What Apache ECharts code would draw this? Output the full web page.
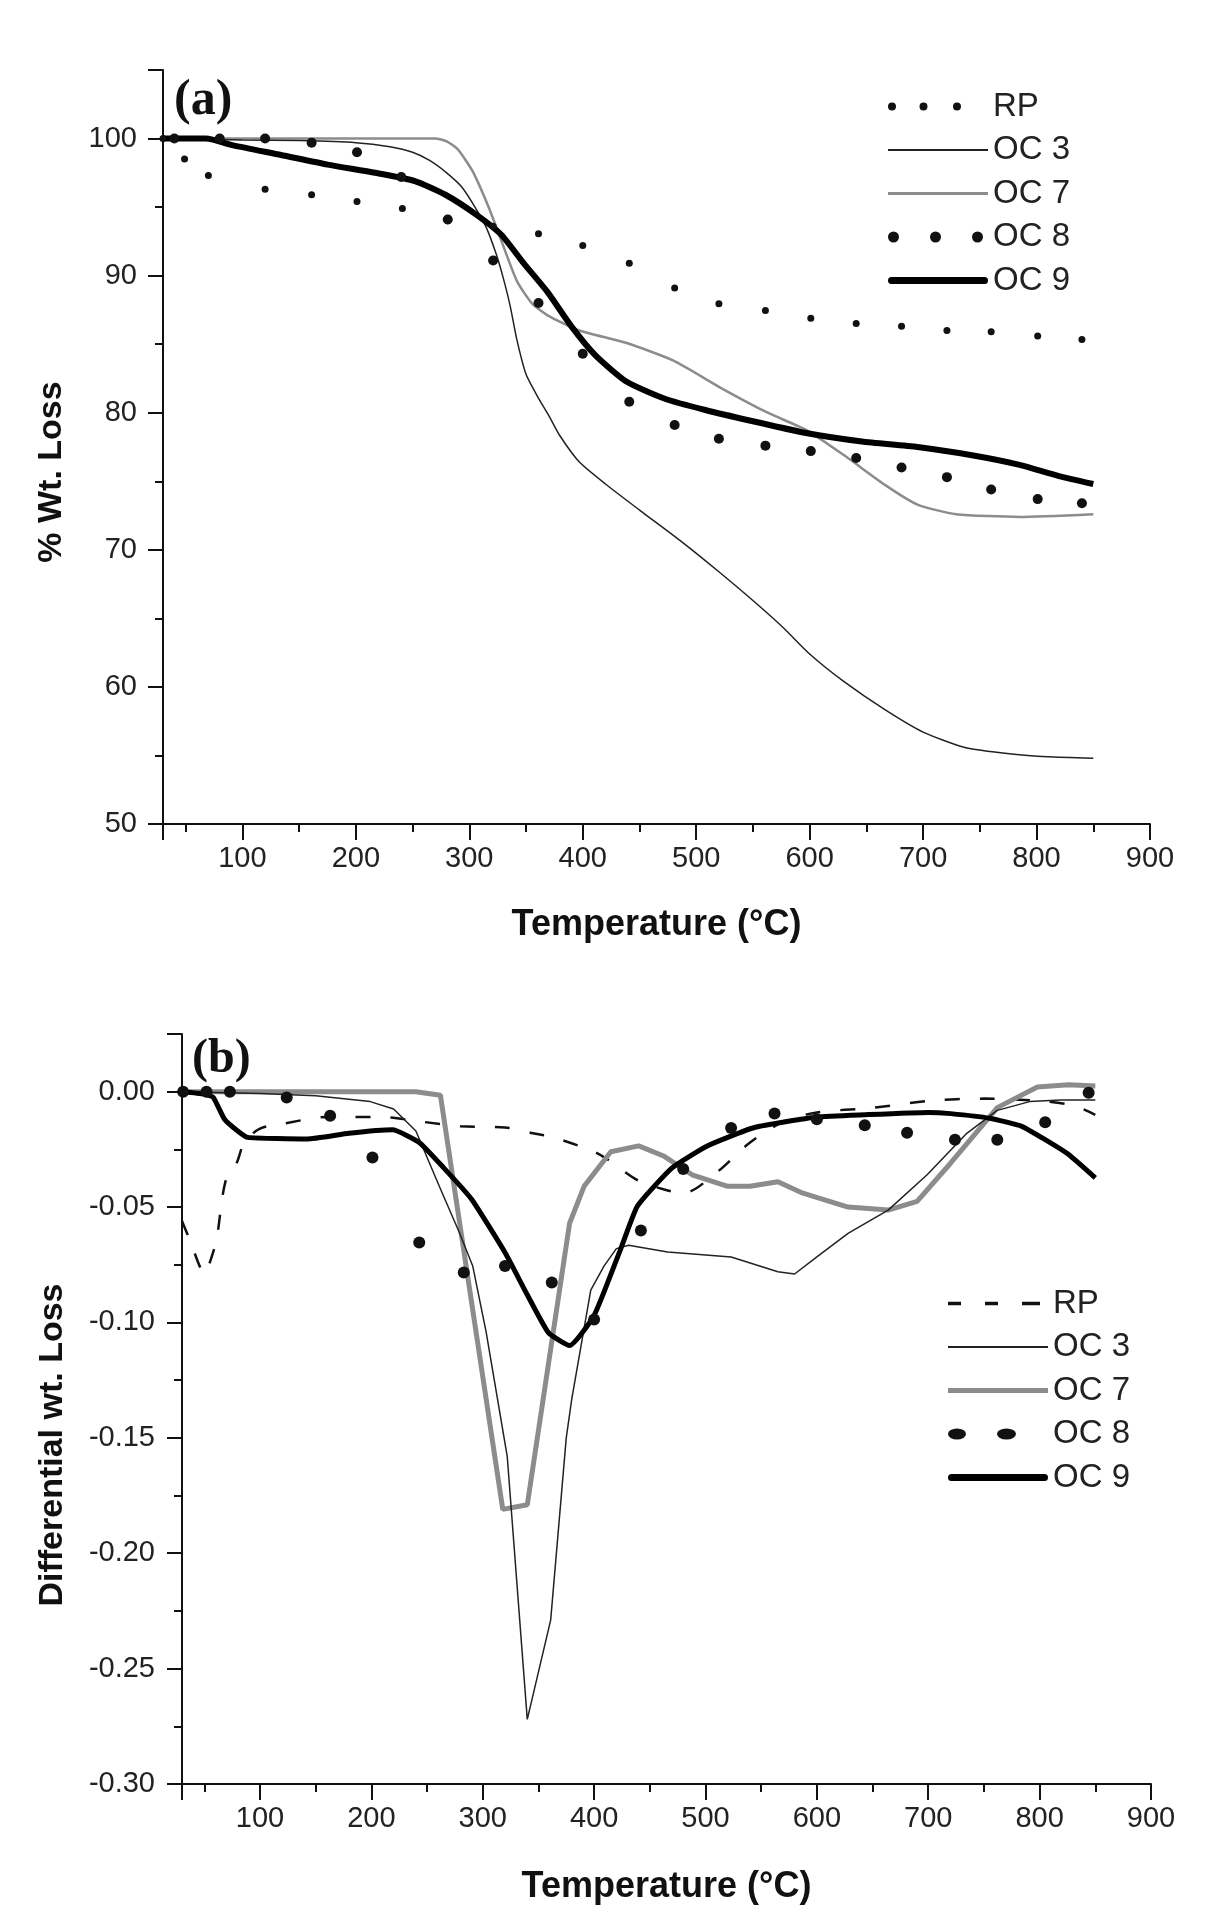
<!DOCTYPE html>
<html>
<head>
<meta charset="utf-8">
<script src="https://cdn.jsdelivr.net/npm/echarts@6/dist/echarts.min.js"></script>
<style>
html,body{margin:0;padding:0;background:#fff;}
#chart{width:1232px;height:1918px;}
</style>
</head>
<body>
<div id="chart"></div>
<script>
// ---------- DATA: panel (a) TGA, % Wt. Loss ----------
const seriesNames = ['RP', 'OC 3', 'OC 7', 'OC 8', 'OC 9'];

const tRPa  = [30, 49, 70, 120, 161, 201, 241, 281, 321, 361, 400, 441, 481, 520, 561, 601, 641, 681, 721, 760, 801, 840];
const wRPa  = [100, 98.5, 97.3, 96.3, 95.9, 95.4, 94.9, 94.0, 93.6, 93.05, 92.2, 90.9, 89.1, 87.95, 87.45, 86.9, 86.5, 86.3, 86.0, 85.9, 85.6, 85.35];
const tOC3a = [30, 100, 150, 200, 230, 250, 265, 280, 293, 305, 315, 324, 330, 336, 342, 350, 360, 370, 380, 397, 420, 450, 487, 520, 550, 577, 600, 630, 667, 700, 736, 778, 810, 850];
const wOC3a = [100, 99.9, 99.85, 99.7, 99.4, 99.0, 98.4, 97.5, 96.5, 95.0, 93.5, 91.5, 89.8, 87.8, 85.3, 82.8, 81.2, 79.8, 78.3, 76.4, 74.8, 72.9, 70.6, 68.4, 66.3, 64.3, 62.4, 60.4, 58.3, 56.7, 55.6, 55.1, 54.9, 54.8];
const tOC7a = [30, 150, 270, 280, 290, 303, 317, 328, 342, 355, 369, 397, 438, 480, 522, 563, 598, 632, 667, 695, 729, 785, 850];
const wOC7a = [100, 100, 100, 99.8, 99.2, 97.6, 95.0, 92.6, 89.6, 88.0, 87.1, 86.0, 85.1, 83.8, 81.8, 80.0, 78.7, 76.8, 74.7, 73.3, 72.6, 72.4, 72.6];
const tOC8a = [40, 80, 120, 161, 201, 240, 281, 321, 361, 400, 441, 481, 520, 561, 601, 641, 681, 721, 760, 801, 840];
const wOC8a = [100, 100, 100, 99.7, 99.0, 97.2, 94.1, 91.1, 88.0, 84.3, 80.8, 79.1, 78.1, 77.6, 77.2, 76.7, 76.0, 75.3, 74.4, 73.7, 73.4];
const tOC9a = [30, 68, 92, 134, 175, 217, 252, 279, 307, 328, 348, 369, 390, 411, 438, 473, 508, 549, 598, 646, 695, 743, 785, 819, 850];
const wOC9a = [100, 100, 99.5, 98.8, 98.1, 97.5, 96.9, 95.9, 94.4, 93.0, 90.9, 88.8, 86.3, 84.2, 82.3, 81.0, 80.2, 79.4, 78.5, 77.9, 77.5, 76.9, 76.2, 75.4, 74.8];

// ---------- DATA: panel (b) DTG, Differential wt. Loss ----------
const tRPb  = [30, 36, 51, 55, 61, 69, 79, 86, 100, 120, 160, 210, 245, 280, 320, 345, 365, 400, 411, 440, 463, 480, 510, 540, 570, 600, 650, 700, 750, 800, 830, 850];
const dRPb  = [-0.056, -0.063, -0.079, -0.074, -0.064, -0.039, -0.031, -0.022, -0.016, -0.014, -0.011, -0.011, -0.013, -0.015, -0.0155, -0.018, -0.020, -0.026, -0.029, -0.0386, -0.0424, -0.044, -0.035, -0.022, -0.013, -0.009, -0.007, -0.004, -0.003, -0.004, -0.006, -0.010];
const tOC3b = [30, 100, 150, 199, 220, 240, 261, 279, 291, 303, 322, 340, 361, 375, 380, 397, 409, 420, 431, 466, 523, 565, 580, 600, 628, 664, 699, 734, 762, 791, 819, 850];
const dOC3b = [0, -0.0008, -0.0018, -0.0043, -0.0075, -0.017, -0.041, -0.061, -0.0755, -0.104, -0.158, -0.272, -0.229, -0.150, -0.133, -0.086, -0.0755, -0.068, -0.0665, -0.0695, -0.0716, -0.078, -0.079, -0.0716, -0.0614, -0.0513, -0.036, -0.0183, -0.0081, -0.0043, -0.0036, -0.0036];
const tOC7b = [30, 240, 262, 318, 340, 378, 391, 415, 440, 463, 488, 520, 540, 565, 586, 628, 664, 690, 720, 762, 798, 826, 850];
const dOC7b = [0, 0, -0.0015, -0.181, -0.179, -0.057, -0.041, -0.026, -0.0235, -0.028, -0.036, -0.041, -0.041, -0.039, -0.0437, -0.050, -0.0513, -0.0475, -0.031, -0.0069, 0.002, 0.003, 0.0025];
const tOC8b = [31, 52, 73, 124, 163, 201, 243, 283, 320, 362, 400, 442, 480, 523, 562, 600, 643, 681, 724, 762, 805, 844];
const dOC8b = [0, 0, 0, -0.0025, -0.0104, -0.0285, -0.0654, -0.0784, -0.0755, -0.0827, -0.0987, -0.0602, -0.0335, -0.0157, -0.0094, -0.0119, -0.0145, -0.0178, -0.0208, -0.0208, -0.0132, -0.0005];
const tOC9b = [30, 50, 58, 68, 80, 89, 142, 180, 219, 243, 265, 290, 320, 340, 359, 378, 400, 424, 439, 470, 502, 544, 600, 643, 700, 720, 755, 784, 805, 826, 850];
const dOC9b = [0, -0.001, -0.0024, -0.0118, -0.017, -0.0198, -0.0205, -0.018, -0.0165, -0.022, -0.033, -0.0466, -0.0697, -0.088, -0.1044, -0.110, -0.097, -0.068, -0.0495, -0.033, -0.0234, -0.0155, -0.011, -0.010, -0.009, -0.0095, -0.0115, -0.015, -0.0208, -0.0272, -0.0373];

// ---------- helpers ----------
function zip(xs, ys) { return xs.map((x, i) => [x, ys[i]]); }
function circ(cx, cy, r) { return `M${cx - r},${cy}A${r},${r} 0 1,0 ${cx + r},${cy}A${r},${r} 0 1,0 ${cx - r},${cy}Z`; }
function ell(x0, w, cy, ry) { const rx = w / 2, cx = x0 + rx; return `M${cx - rx},${cy}A${rx},${ry} 0 1,0 ${cx + rx},${cy}A${rx},${ry} 0 1,0 ${cx - rx},${cy}Z`; }
function rect(x0, w, h) { return `M${x0},0H${x0 + w}V${h}H${x0}Z`; }
function endMark(cy) { return `M99.9,${cy}H100V${cy + 0.01}H99.9Z`; }
function roundBar(h) { const r = h / 2; return `M${r},0H${100 - r}A${r},${r} 0 0,1 ${100 - r},${h}H${r}A${r},${r} 0 0,1 ${r},0Z`; }

const FONT = 'Liberation Sans, Arial, Helvetica, sans-serif';
const SERIF = 'Liberation Serif, Times New Roman, serif';
const INK = '#111';
const GRAY = '#8c8c8c';

const iconsA = [
  'path://' + circ(4, 4, 4) + circ(35.5, 4, 4) + circ(69, 4, 4) + endMark(4),
  'path://' + rect(0, 100, 2),
  'path://' + rect(0, 100, 3),
  'path://' + circ(5.5, 5.5, 5.5) + circ(47.5, 5.5, 5.5) + circ(89.5, 5.5, 5.5) + endMark(5.5),
  'path://' + roundBar(7)
];
const iconsB = [
  'path://' + rect(0, 13, 3.5) + rect(37, 13, 3.5) + rect(74, 18, 3.5) + endMark(1.75),
  'path://' + rect(0, 100, 2),
  'path://' + rect(0, 100, 5),
  'path://' + ell(0, 18, 5.5, 5.5) + ell(49, 19, 5.5, 5.5) + endMark(5.5),
  'path://' + roundBar(7)
];
const legendColors = [INK, '#222', GRAY, INK, '#000'];

function legendFor(icons, left, top, gap) {
  return {
    left: left, top: top, orient: 'vertical', itemWidth: 100, itemHeight: 12, itemGap: gap,
    selectedMode: false, padding: 0,
    textStyle: { fontFamily: FONT, fontSize: 33, color: '#222', lineHeight: 33 },
    data: seriesNames.map((n, i) => ({ name: n, icon: icons[i], itemStyle: { color: legendColors[i], borderWidth: 0, opacity: 1 } }))
  };
}

function xAxisFor(gridIndex, nameGap) {
  return {
    type: 'value', gridIndex: gridIndex, min: 30, max: 900, splitNumber: 9,
    name: 'Temperature (°C)', nameLocation: 'middle', nameGap: nameGap,
    nameTextStyle: { fontFamily: FONT, fontSize: 36, fontWeight: 'bold', color: INK },
    axisLine: { show: true, onZero: false, lineStyle: { color: INK, width: 2 } },
    axisTick: { show: true, length: 16, lineStyle: { color: INK, width: 2 } },
    minorTick: { show: true, splitNumber: 2, length: 8, lineStyle: { color: INK, width: 2 } },
    axisLabel: { showMinLabel: false, margin: 20, fontFamily: FONT, fontSize: 29, color: '#222' },
    splitLine: { show: false }, minorSplitLine: { show: false }
  };
}

const dotStyle = { color: INK, opacity: 1 };

const option = {
  animation: false,
  backgroundColor: '#ffffff',
  title: [
    { text: '(a)', left: 174, top: 76, padding: 0, textStyle: { fontFamily: SERIF, fontWeight: 'bold', fontSize: 50, color: INK } },
    { text: '(b)', left: 192, top: 1036, padding: 0, textStyle: { fontFamily: SERIF, fontWeight: 'bold', fontSize: 48, color: INK } }
  ],
  legend: [legendFor(iconsA, 888, 90, 10.5), legendFor(iconsB, 948, 1287, 10.5)],
  grid: [
    { left: 163, top: 70, width: 987, height: 754, show: false },
    { left: 182, top: 1034, width: 969, height: 750, show: false }
  ],
  xAxis: [xAxisFor(0, 83), xAxisFor(1, 85)],
  yAxis: [
    {
      type: 'value', gridIndex: 0, min: 50, max: 105, interval: 10,
      name: '% Wt. Loss', nameLocation: 'middle', nameGap: 94,
      nameTextStyle: { fontFamily: FONT, fontSize: 34, fontWeight: 'bold', color: INK, padding: [0, 50, 0, 0] },
      axisLine: { show: true, onZero: false, lineStyle: { color: INK, width: 2 } },
      axisTick: { show: true, length: 15, lineStyle: { color: INK, width: 2 } },
      minorTick: { show: true, splitNumber: 2, length: 8, lineStyle: { color: INK, width: 2 } },
      axisLabel: { showMaxLabel: false, margin: 26, fontFamily: FONT, fontSize: 29, color: '#222' },
      splitLine: { show: false }, minorSplitLine: { show: false }
    },
    {
      type: 'value', gridIndex: 1, min: -0.30, max: 0.025, interval: 0.05,
      name: 'Differential wt. Loss', nameLocation: 'middle', nameGap: 112,
      nameTextStyle: { fontFamily: FONT, fontSize: 34, fontWeight: 'bold', color: INK, padding: [0, 72, 0, 0] },
      axisLine: { show: true, onZero: false, lineStyle: { color: INK, width: 2 } },
      axisTick: { show: true, length: 15, lineStyle: { color: INK, width: 2 } },
      minorTick: { show: true, splitNumber: 2, length: 8, lineStyle: { color: INK, width: 2 } },
      axisLabel: { showMaxLabel: false, margin: 27, fontFamily: FONT, fontSize: 29, color: '#222',
        formatter: v => (Math.abs(v) < 1e-9 ? 0 : v).toFixed(2) },
      splitLine: { show: false }, minorSplitLine: { show: false }
    }
  ],
  series: [
    // panel (a)
    { name: 'RP', type: 'scatter', xAxisIndex: 0, yAxisIndex: 0, data: zip(tRPa, wRPa), symbol: 'circle', symbolSize: 7, itemStyle: dotStyle, z: 5 },
    { name: 'OC 3', type: 'line', xAxisIndex: 0, yAxisIndex: 0, data: zip(tOC3a, wOC3a), symbol: 'none', smooth: 0.2, color: '#222', lineStyle: { color: '#222', width: 1.5 }, z: 3 },
    { name: 'OC 7', type: 'line', xAxisIndex: 0, yAxisIndex: 0, data: zip(tOC7a, wOC7a), symbol: 'none', smooth: 0.2, color: GRAY, lineStyle: { color: GRAY, width: 2.5 }, z: 2 },
    { name: 'OC 8', type: 'scatter', xAxisIndex: 0, yAxisIndex: 0, data: zip(tOC8a, wOC8a), symbol: 'circle', symbolSize: 10, itemStyle: dotStyle, z: 5 },
    { name: 'OC 9', type: 'line', xAxisIndex: 0, yAxisIndex: 0, data: zip(tOC9a, wOC9a), symbol: 'none', smooth: 0.2, color: '#000', lineStyle: { color: '#000', width: 6 }, z: 4 },
    // panel (b)
    { name: 'RP', type: 'line', xAxisIndex: 1, yAxisIndex: 1, data: zip(tRPb, dRPb), symbol: 'none', smooth: 0.3, color: INK, lineStyle: { color: INK, width: 2.5, type: [15, 20] }, z: 2 },
    { name: 'OC 3', type: 'line', xAxisIndex: 1, yAxisIndex: 1, data: zip(tOC3b, dOC3b), symbol: 'none', color: '#222', lineStyle: { color: '#222', width: 1.5 }, z: 3 },
    { name: 'OC 7', type: 'line', xAxisIndex: 1, yAxisIndex: 1, data: zip(tOC7b, dOC7b), symbol: 'none', color: GRAY, lineStyle: { color: GRAY, width: 5 }, z: 2 },
    { name: 'OC 8', type: 'scatter', xAxisIndex: 1, yAxisIndex: 1, data: zip(tOC8b, dOC8b), symbol: 'circle', symbolSize: 12, itemStyle: dotStyle, z: 5 },
    { name: 'OC 9', type: 'line', xAxisIndex: 1, yAxisIndex: 1, data: zip(tOC9b, dOC9b), symbol: 'none', smooth: 0.15, color: '#000', lineStyle: { color: '#000', width: 5 }, z: 4 }
  ]
};

const chart = echarts.init(document.getElementById('chart'), null, { renderer: 'canvas' });
chart.setOption(option);
</script>
</body>
</html>
